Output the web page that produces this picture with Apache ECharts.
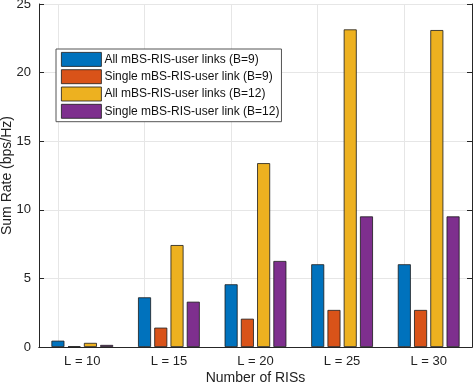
<!DOCTYPE html>
<html><head><meta charset="utf-8">
<script src="https://cdn.jsdelivr.net/npm/echarts@6/dist/echarts.min.js"></script>
<style>html,body{margin:0;padding:0;background:#fff}#c{width:474px;height:387px}</style>
</head><body><div id="c"></div>
<script>
const categories = ['L = 10', 'L = 15', 'L = 20', 'L = 25', 'L = 30'];
const seriesNames = ['All mBS-RIS-user links (B=9)', 'Single mBS-RIS-user link (B=9)', 'All mBS-RIS-user links (B=12)', 'Single mBS-RIS-user link (B=12)'];
const allB9 = [0.46, 3.62, 4.57, 6.03, 6.03];
const singleB9 = [0.05, 1.41, 2.06, 2.70, 2.70];
const allB12 = [0.30, 7.43, 13.4, 23.15, 23.1];
const singleB12 = [0.15, 3.30, 6.27, 9.52, 9.52];
const colors = ['#0072BD', '#D95319', '#EDB120', '#7E2F8E'];
const yTicks = [0, 5, 10, 15, 20, 25];

const font = '"Liberation Sans", Arial, Helvetica, sans-serif';
const chart = echarts.init(document.getElementById('c'));
const dataSets = [allB9, singleB9, allB12, singleB12];
const series = dataSets.map((d, i) => ({
  name: seriesNames[i], type: 'bar', data: d, barWidth: 13, barGap: '25%',
  itemStyle: {color: colors[i], borderColor: '#1a1a1a', borderWidth: 0.8},
  z: 3
}));
series[0].markLine = {
  silent: true, symbol: 'none', label: {show: false},
  lineStyle: {color: '#e6e6e6', type: 'solid', width: 1},
  data: categories.map(c => ({xAxis: c})),
  z: 1
};
chart.setOption({
  animation: false,
  textStyle: {fontFamily: font},
  color: colors,
  grid: {left: 39, right: 2, top: 4, bottom: 40, containLabel: false, outerBoundsMode: 'none'},
  legend: {
    orient: 'vertical', left: 56, top: 49,
    itemWidth: 40, itemHeight: 14, itemGap: 2.5,
    padding: [3, 2, 3, 5],
    icon: 'rect',
    backgroundColor: '#fff', borderColor: '#555', borderWidth: 1,
    textStyle: {fontFamily: font, fontSize: 12, color: '#111', padding: [0, 0, 0, -2]},
    itemStyle: {borderColor: '#1a1a1a', borderWidth: 0.8},
    data: seriesNames
  },
  xAxis: [{
    type: 'category', data: categories,
    axisLine: {lineStyle: {color: '#262626', width: 1}},
    axisTick: {inside: true, alignWithLabel: true, length: 5, lineStyle: {color: '#262626'}},
    axisLabel: {fontSize: 13, color: '#222', margin: 8, fontFamily: font},
    name: 'Number of RISs', nameLocation: 'middle', nameGap: 24, nameMoveOverlap: false,
    nameTextStyle: {fontSize: 14, color: '#222', fontFamily: font},
    splitLine: {show: false}
  }, {
    type: 'category', data: categories, position: 'top',
    axisLine: {lineStyle: {color: '#262626', width: 1}},
    axisTick: {inside: true, alignWithLabel: true, length: 5, lineStyle: {color: '#262626'}},
    axisLabel: {show: false}
  }],
  yAxis: [{
    type: 'value', min: 0, max: 25, interval: 5,
    axisLine: {show: true, lineStyle: {color: '#262626', width: 1}},
    axisTick: {show: true, inside: true, length: 5, lineStyle: {color: '#262626'}},
    axisLabel: {fontSize: 13, color: '#222', margin: 8, fontFamily: font,
      formatter: v => yTicks.includes(v) ? String(v) : ''},
    splitLine: {show: true, lineStyle: {color: '#e6e6e6', width: 1}},
    name: 'Sum Rate (bps/Hz)', nameLocation: 'middle', nameGap: 25, nameMoveOverlap: false,
    nameTextStyle: {fontSize: 14, color: '#222', fontFamily: font}
  }, {
    type: 'value', min: 0, max: 25, interval: 5, position: 'right',
    axisLine: {show: true, lineStyle: {color: '#262626', width: 1}},
    axisTick: {show: true, inside: true, length: 5, lineStyle: {color: '#262626'}},
    axisLabel: {show: false}, splitLine: {show: false}
  }],
  series: series
});
</script></body></html>
